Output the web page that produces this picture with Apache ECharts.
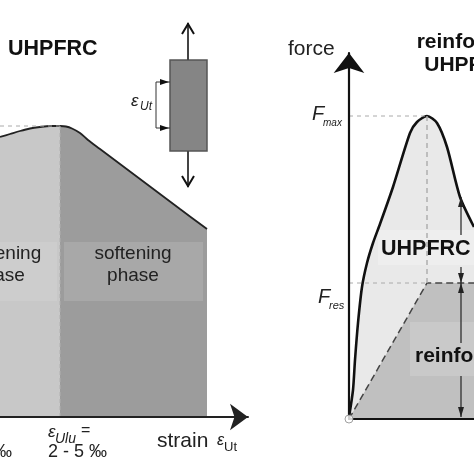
<!DOCTYPE html>
<html><head><meta charset="utf-8">
<style>html,body{margin:0;padding:0;background:#fff}#c{width:474px;height:474px}</style>
<script src="https://cdn.jsdelivr.net/npm/echarts@6/dist/echarts.min.js"></script>
</head><body><div id="c"></div>
<script>
// Left panel: strain / stress
var hardeningCurve=[[0,280],[10,283],[20,286],[30,288.5],[40,290],[50,291],[60,291]];
var softeningCurve=[[60,291],[66,290.5],[72,288.5],[80,284],[88,277],[100,268],[120,253],[150,230.5],[180,208],[207,188]];
var peakStressLine=[[0,291],[60,291]];
var phaseBoundary=[[60,0],[60,291]];
var hardeningBox=[[0,116],[57,116],[57,175],[0,175]];
var softeningBox=[[64,116],[203,116],[203,175],[64,175]];
var specimen=[[170,357],[207,357],[207,266],[170,266]];
var specimenTop=[[188,357],[188,394]];
var specimenTopHead=[[182,383],[188,393],[194,383]];
var specimenBottom=[[188,266],[188,230]];
var specimenBottomHead=[[182,241],[188,231],[194,241]];
var gaugeBracket=[[170,335],[156,335],[156,289],[170,289]];
var gaugeHeadA=[[160,338],[169,335],[160,332]];
var gaugeHeadB=[[160,292],[169,289],[160,286]];
// Right panel: displacement / force
var forceCurve=[[0,2],[4,29],[6,59],[9,96],[13,132],[18,156],[24,176],[31,195],[44,232],[61,286],[68,297],[78,303],[88,296],[98,272],[111,222],[125,192]];
var reinforcementCurve=[[0,0],[78,136],[125,136]];
var fmaxLine=[[0,303],[78,303]];
var fmaxDrop=[[78,303],[78,136]];
var fresLine=[[0,136],[78,136]];
var uhpfrcBox=[[29,189],[125,189],[125,154],[29,154]];
var reinfBox=[[61,97],[125,97],[125,43],[61,43]];
var dimA=[[112,222],[112,184]];
var dimB=[[112,152],[112,136]];
var dimC=[[112,136],[112,76]];
var dimD=[[112,43],[112,2]];
var dimHeads=[[[109,212],[112,222],[115,212]],[[109,146],[112,136],[115,146]],[[109,126],[112,136],[115,126]],[[109,12],[112,2],[115,12]]];
var origin=[[0,0]];

function shape(gridIdx,pts,opt){
  return {type:'custom',xAxisIndex:gridIdx,yAxisIndex:gridIdx,coordinateSystem:'cartesian2d',z:opt.z||5,silent:true,clip:false,
    data:pts,encode:{x:0,y:1},
    renderItem:function(p,api){
      if(p.dataIndex!==0)return null;
      return {type:opt.closed?'polygon':'polyline',
        shape:{points:pts.map(function(q){return api.coord(q);})},
        style:{fill:opt.fill||null,stroke:opt.stroke||null,lineWidth:opt.width||1,lineDash:opt.dash||null}};
    }};
}
function curve(gridIdx,pts,opt){
  return {type:'line',xAxisIndex:gridIdx,yAxisIndex:gridIdx,data:pts,smooth:opt.smooth||0,symbol:'none',z:opt.z||3,silent:true,
    lineStyle:{color:opt.stroke,width:opt.width,type:opt.dash||'solid'},
    areaStyle:opt.fill?{color:opt.fill,opacity:1,origin:'start'}:undefined};
}
function t(str,x,y,size,o){
  o=o||{};
  return {type:'text',x:x,y:y,z:50,silent:true,style:{text:str,fill:o.color||'#222',textAlign:o.align||'left',textVerticalAlign:'middle',
    font:(o.italic?'italic ':'')+(o.bold?'bold ':'')+size+'px "Liberation Sans", Arial, sans-serif'}};
}
var texts=[
  t('UHPFRC',8,49,21.5,{bold:true,color:'#111'}),
  t('hardening',-1,254,19,{align:'center'}),t('phase',-1,276,19,{align:'center'}),
  t('softening',133,254,19,{align:'center'}),t('phase',133,276,19,{align:'center'}),
  t('\u03b5',131,101,17,{italic:true}),t('Ut',140,107,12,{italic:true}),
  t('\u03b5',48,432,17,{italic:true}),t('Ulu',55,439,14,{italic:true}),t('=',81,431,16),
  t('2 - 5 \u2030',48,452,18),t('\u2030',-6,452,18),
  t('strain',157,441,21),t('\u03b5',217,441,16,{italic:true}),t('Ut',224,447,13),
  t('force',288,49,21),
  t('F',312,114,20,{italic:true}),t('max',323,123,10,{italic:true}),
  t('F',318,297,20,{italic:true}),t('res',329,306,11,{italic:true}),
  t('reinforced',468,42,21,{bold:true,align:'center',color:'#111'}),
  t('UHPFRC',468,65,21,{bold:true,align:'center',color:'#111'}),
  t('UHPFRC',381,249,21.5,{bold:true,color:'#111'}),
  t('reinforcement',415,356,21,{bold:true,color:'#111'})
];
var hiddenY=function(grid,max){return {type:'value',gridIndex:grid,min:0,max:max,show:false,splitLine:{show:false}};};
var series=[
  curve(0,hardeningCurve,{stroke:'#222',width:1.8,fill:'#c8c8c8',smooth:0.3}),
  curve(0,softeningCurve,{stroke:'#222',width:1.8,fill:'#9c9c9c',smooth:0.3}),
  shape(0,hardeningBox,{closed:true,fill:'#cdcdcd',z:4}),
  shape(0,softeningBox,{closed:true,fill:'#a8a8a8',z:4}),
  shape(0,peakStressLine,{stroke:'#aaa',width:1,dash:[4,4]}),
  shape(0,phaseBoundary,{stroke:'#b0b0b0',width:1,dash:[4,3]}),
  shape(0,specimen,{closed:true,fill:'#858585',stroke:'#555',width:1.5}),
  shape(0,specimenTop,{stroke:'#444',width:2}),
  shape(0,specimenTopHead,{stroke:'#111',width:2}),
  shape(0,specimenBottom,{stroke:'#444',width:2}),
  shape(0,specimenBottomHead,{stroke:'#111',width:2}),
  shape(0,gaugeBracket,{stroke:'#333',width:1}),
  shape(0,gaugeHeadA,{closed:true,fill:'#111'}),
  shape(0,gaugeHeadB,{closed:true,fill:'#111'}),
  curve(1,forceCurve,{stroke:'#111',width:2.6,fill:'#e9e9e9',smooth:0.25,z:3}),
  shape(1,uhpfrcBox,{closed:true,fill:'#eeeeee',z:3}),
  shape(1,fmaxLine,{stroke:'#aaa',width:1,dash:[4,4]}),
  shape(1,fmaxDrop,{stroke:'#aaa',width:1.4,dash:[5,4]}),
  shape(1,fresLine,{stroke:'#aaa',width:1,dash:[4,4]}),
  curve(1,reinforcementCurve,{stroke:'#444',width:1.5,dash:[7,4],fill:'#c0c0c0',z:4}),
  shape(1,reinfBox,{closed:true,fill:'#c9c9c9',z:5}),
  shape(1,dimA,{stroke:'#222',width:1.2,z:6}),
  shape(1,dimB,{stroke:'#222',width:1.2,z:6}),
  shape(1,dimC,{stroke:'#222',width:1.2,z:6}),
  shape(1,dimD,{stroke:'#222',width:1.2,z:6})
];
dimHeads.forEach(function(h){series.push(shape(1,h,{closed:true,fill:'#222',z:6}));});
series.push({type:'scatter',xAxisIndex:1,yAxisIndex:1,data:origin,symbol:'circle',symbolSize:8,z:20,silent:true,clip:false,
  itemStyle:{color:'#fff',borderColor:'#888',borderWidth:1}});

var chart=echarts.init(document.getElementById('c'),null,{renderer:'canvas'});
chart.setOption({
  animation:false,
  backgroundColor:'#fff',
  grid:[{left:0,top:20,width:248,height:397},{left:349,top:53,width:125,height:366}],
  xAxis:[
    {type:'value',gridIndex:0,min:0,max:248,z:10,axisLabel:{show:false},axisTick:{show:false},splitLine:{show:false},
      axisLine:{show:true,onZero:false,symbol:['none','arrow'],symbolSize:[20,18],lineStyle:{color:'#222',width:2}}},
    {type:'value',gridIndex:1,min:0,max:125,z:10,axisLabel:{show:false},axisTick:{show:false},splitLine:{show:false},
      axisLine:{show:true,onZero:false,lineStyle:{color:'#111',width:2.2}}}
  ],
  yAxis:[
    hiddenY(0,397),
    {type:'value',gridIndex:1,min:0,max:366,z:10,axisLabel:{show:false},axisTick:{show:false},splitLine:{show:false},
      axisLine:{show:true,onZero:false,symbol:['none','arrow'],symbolSize:[23,20],lineStyle:{color:'#111',width:2.2}}}
  ],
  series:series,
  graphic:{elements:texts}
});
</script></body></html>
